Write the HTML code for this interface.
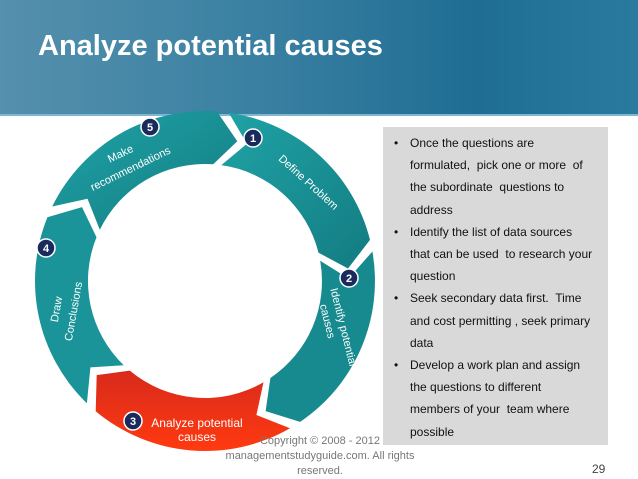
<!DOCTYPE html>
<html><head><meta charset="utf-8"><style>
body{margin:0;width:638px;height:478px;overflow:hidden;background:#fff;font-family:"Liberation Sans",sans-serif;position:relative}
#hdr{position:absolute;left:0;top:0;width:638px;height:114px;background:linear-gradient(90deg,#5590ad 0%,#3a80a2 40%,#1f6d93 75%,#2a7aa0 100%);border-bottom:2px solid #7fb6d0}
#title{position:absolute;left:38px;top:30px;color:#fff;font-weight:bold;font-size:29px}
#box{position:absolute;left:383px;top:127px;width:225px;height:318px;background:#d9d9d9}
#box div{position:absolute;left:27px;top:5px;font-size:12px;color:#111;line-height:22.2px;white-space:nowrap}
#box span{position:absolute;left:-16px}
#copy{position:absolute;left:220px;top:434px;width:200px;text-align:center;color:#777;font-size:11px;line-height:15px}
#pg{position:absolute;left:592px;top:462px;font-size:12px;color:#444}
</style></head><body>
<div id="hdr"></div>
<div id="title">Analyze potential causes</div>
<svg width="638" height="478" style="position:absolute;left:0;top:0">
<defs>
<linearGradient id="tg" x1="0" y1="0" x2="1" y2="1"><stop offset="0" stop-color="#1fa3a6"/><stop offset="1" stop-color="#137c82"/></linearGradient>
<linearGradient id="rg" x1="0" y1="0" x2="0" y2="1"><stop offset="0" stop-color="#d82a1c"/><stop offset="1" stop-color="#ff3a10"/></linearGradient>
</defs>
<g id="ring"></g>
<g font-size="11" fill="#fff">
<text transform="translate(122,157) rotate(-26)" text-anchor="middle">Make</text>
<text transform="translate(132,172) rotate(-26)" text-anchor="middle">recommendations</text>
<text transform="translate(306,185) rotate(42)" text-anchor="middle">Define Problem</text>
<text transform="translate(340,328) rotate(76)" text-anchor="middle">Identify potential</text>
<text transform="translate(324,322) rotate(76)" text-anchor="middle">causes</text>
<text transform="translate(60,310) rotate(-80)" text-anchor="middle">Draw</text>
<text transform="translate(77,312) rotate(-80)" text-anchor="middle">Conclusions</text>
<text x="197" y="427" text-anchor="middle" font-size="12">Analyze potential</text>
<text x="197" y="441" text-anchor="middle" font-size="12">causes</text>
</g>
<g font-size="11" font-weight="bold" fill="#fff" text-anchor="middle">
<circle cx="150" cy="127" r="9" fill="#1b2a5c" stroke="#fff" stroke-width="1.5"/><text x="150" y="131">5</text>
<circle cx="253" cy="138" r="9" fill="#1b2a5c" stroke="#fff" stroke-width="1.5"/><text x="253" y="142">1</text>
<circle cx="349" cy="278" r="9" fill="#1b2a5c" stroke="#fff" stroke-width="1.5"/><text x="349" y="282">2</text>
<circle cx="133" cy="421" r="9" fill="#1b2a5c" stroke="#fff" stroke-width="1.5"/><text x="133" y="425">3</text>
<circle cx="46" cy="248" r="9" fill="#1b2a5c" stroke="#fff" stroke-width="1.5"/><text x="46" y="252">4</text>
</g>
</svg>
<div id="box"><div>
<span>•</span>Once the questions are<br>formulated,&nbsp; pick one or more&nbsp; of<br>the subordinate&nbsp; questions to<br>address<br>
<span>•</span>Identify the list of data sources<br>that can be used&nbsp; to research your<br>question<br>
<span>•</span>Seek secondary data first.&nbsp; Time<br>and cost permitting , seek primary<br>data<br>
<span>•</span>Develop a work plan and assign<br>the questions to different<br>members of your&nbsp; team where<br>possible
</div></div>
<div id="copy">Copyright © 2008 - 2012<br>managementstudyguide.com. All rights<br>reserved.</div>
<div id="pg">29</div>
<script>
var cx=205,cy=281,R=170,r=117,m=(R+r)/2;
function p(rad,a){a=(a-90)*Math.PI/180;return (cx+rad*Math.cos(a)).toFixed(1)+","+(cy+rad*Math.sin(a)).toFixed(1);}
function seg(a0,a1,fill){
 var d="M"+p(R,a0)+" A"+R+","+R+" 0 0 1 "+p(R,a1)+" L"+p(m,a1+9)+" L"+p(r,a1)+" A"+r+","+r+" 0 0 0 "+p(r,a0)+" L"+p(m,a0+9)+"Z";
 return '<path d="'+d+'" fill="'+fill+'"/>';}
document.getElementById("ring").innerHTML=
 seg(8,76,"url(#tg)")+seg(80,146,"#178a8f")+seg(224,292,"#1a9499")+seg(296,364,"url(#tg)")+seg(150,220,"url(#rg)");
</script>
</body></html>
